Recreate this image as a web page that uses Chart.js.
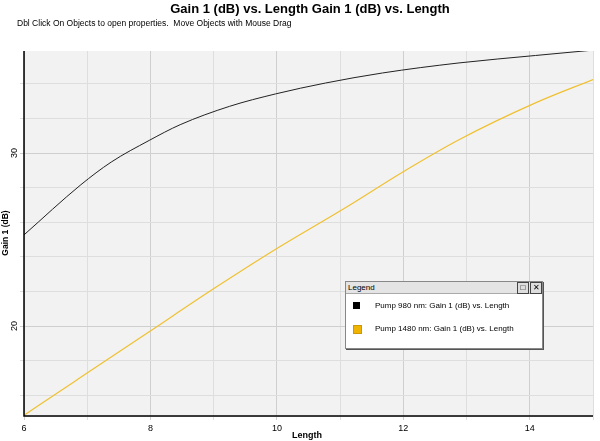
<!DOCTYPE html>
<html>
<head>
<meta charset="utf-8">
<script src="https://cdn.jsdelivr.net/npm/chart.js@4"></script>
<style>
body { margin: 0; background: #fff; font-family: Arial, "Liberation Sans", sans-serif; }
#wrap { position: relative; width: 600px; height: 441px; }
#legend { position: absolute; left: 345px; top: 281px; width: 196px; height: 66px; background: #fff; border: 1px solid #888; box-shadow: 1px 1px 0 #555; font-size: 8px; }
#legend .hd { height: 11px; background: #e4e4e4; border-bottom: 1px solid #aaa; padding-left: 2px; font-size: 8px; line-height: 11px; position: relative; }
#legend .btn { position: absolute; top: 0; width: 10px; height: 10px; border: 1px solid #444; font-size: 8px; line-height: 9px; text-align: center; background: #ddd; }
#legend .row { position: relative; height: 23px; line-height: 23px; padding-left: 29px; }
#legend .sw { position: absolute; left: 7px; top: 8px; width: 7px; height: 7px; }
</style>
</head>
<body>
<div id="wrap">
<canvas id="c" width="600" height="441"></canvas>
<div id="legend">
  <div class="hd">Legend<span class="btn" style="right:13px">&#9633;</span><span class="btn" style="right:0">&#10005;</span></div>
  <div class="row"><span class="sw" style="background:#000"></span>Pump 980 nm: Gain 1 (dB) vs. Length</div>
  <div class="row"><span class="sw" style="background:#f0b400;border:1px solid #c90"></span>Pump 1480 nm: Gain 1 (dB) vs. Length</div>
</div>
</div>
<script>
const LENGTH_980 = [6, 6.9, 7.38, 7.98, 8.47, 9.25, 9.98, 10.77, 11.67, 12.88, 14.09, 15];
const GAIN_980 = [25.27, 28.17, 29.48, 30.73, 31.64, 32.7, 33.42, 34.05, 34.63, 35.21, 35.64, 35.95];
const LENGTH_1480 = [6, 6.83, 7.98, 9.01, 9.98, 11.07, 11.98, 12.88, 14.09, 15];
const GAIN_1480 = [14.85, 16.87, 19.67, 22.18, 24.44, 26.81, 28.88, 30.77, 32.9, 34.25];

const pts = (xs, ys) => xs.map((x, i) => ({x, y: ys[i]}));

const textPlugin = {
	id: 'texts',
	beforeDraw(chart) {
		const {ctx, chartArea: a} = chart;
		ctx.save();
		ctx.fillStyle = '#f2f2f2';
		ctx.fillRect(a.left, a.top, a.right - a.left, a.bottom - a.top);
		ctx.restore();
	},
	afterDraw(chart) {
		const {ctx, chartArea: a} = chart;
		const y = chart.scales.y;
		ctx.save();
		ctx.fillStyle = '#000';
		ctx.textAlign = 'center';
		ctx.font = 'bold 13px Arial';
		ctx.fillText('Gain 1 (dB) vs. Length Gain 1 (dB) vs. Length', 310, 13);
		ctx.textAlign = 'left';
		ctx.font = '8.5px Arial';
		ctx.fillText('Dbl Click On Objects to open properties.  Move Objects with Mouse Drag', 17, 26);
		ctx.font = 'bold 9px Arial';
		ctx.textAlign = 'center';
		ctx.fillText('Length', 307, 438);
		ctx.font = '9px Arial';
		[20, 30].forEach(v => {
			ctx.save();
			ctx.translate(17, y.getPixelForValue(v));
			ctx.rotate(-Math.PI / 2);
			ctx.fillText(String(v), 0, 0);
			ctx.restore();
		});
		ctx.save();
		ctx.font = 'bold 8.5px Arial';
		ctx.translate(8, 233);
		ctx.rotate(-Math.PI / 2);
		ctx.fillText('Gain 1 (dB)', 0, 0);
		ctx.restore();
		ctx.strokeStyle = '#000';
		ctx.lineWidth = 1.5;
		ctx.beginPath();
		ctx.moveTo(a.left, a.top);
		ctx.lineTo(a.left, a.bottom);
		ctx.lineTo(a.right, a.bottom);
		ctx.stroke();
		ctx.restore();
	}
};

new Chart(document.getElementById('c'), {
	type: 'line',
	data: {
		datasets: [
			{label: 'Pump 980 nm', data: pts(LENGTH_980, GAIN_980), borderColor: '#222', borderWidth: 1, pointRadius: 0, tension: 0.4, cubicInterpolationMode: 'monotone'},
			{label: 'Pump 1480 nm', data: pts(LENGTH_1480, GAIN_1480), borderColor: '#f0c030', borderWidth: 1.2, pointRadius: 0, tension: 0.4, cubicInterpolationMode: 'monotone'}
		]
	},
	options: {
		responsive: false,
		animation: false,
		layout: {padding: {top: 51, right: 7, left: 0, bottom: 0}},
		plugins: {legend: {display: false}, tooltip: {enabled: false}},
		scales: {
			x: {
				type: 'linear', min: 6, max: 15,
				ticks: {stepSize: 1, autoSkip: false, color: '#000', font: {size: 9, family: 'Arial'}, maxRotation: 0,
					callback: v => v % 2 === 0 ? v : ''},
				grid: {color: ctx => ctx.tick && ctx.tick.value % 2 === 0 ? '#cfcfcf' : '#dedede', tickLength: 4},
				afterFit: s => { s.height = 25; }
			},
			y: {
				min: 14.8, max: 35.9,
				ticks: {stepSize: 2, display: false},
				afterBuildTicks: s => { s.ticks = [16, 18, 20, 22, 24, 26, 28, 30, 32, 34].map(v => ({value: v})); },
				grid: {color: ctx => ctx.tick && ctx.tick.value % 10 === 0 ? '#cfcfcf' : '#dedede', tickLength: 4},
				afterFit: s => { s.width = 24; }
			}
		}
	},
	plugins: [textPlugin]
});
</script>
</body>
</html>
